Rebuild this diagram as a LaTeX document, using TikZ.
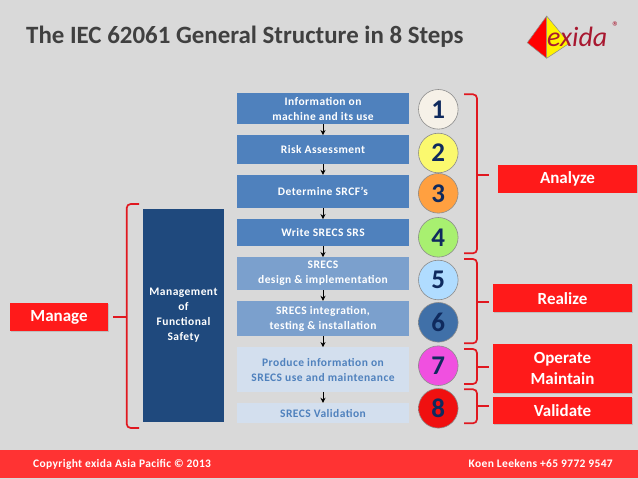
\documentclass[tikz,border=0pt]{standalone}
\usepackage{fontspec}
\setmainfont{Carlito}
\usetikzlibrary{arrows.meta,shadows}
\definecolor{slide}{HTML}{D9D9D9}
\definecolor{stepa}{HTML}{4F81BD}
\definecolor{stepb}{HTML}{7BA0CD}
\definecolor{stepc}{HTML}{D3DFEE}
\definecolor{mfsblue}{HTML}{1F497D}
\definecolor{labelred}{HTML}{FF1A1A}
\definecolor{bracered}{HTML}{E01820}
\definecolor{footred}{HTML}{FF3333}
\definecolor{digitblue}{HTML}{0F2A5E}
\definecolor{logored}{HTML}{A81830}
\colorlet{ballin}{white}
\colorlet{ballout}{black}
\pgfdeclareradialshading[ballin,ballout]{ballshade}{\pgfpoint{0bp}{0bp}}{color(0bp)=(ballin); color(33bp)=(ballin); color(44bp)=(ballin!60!ballout); color(50bp)=(ballout)}
\tikzset{
    stepbox/.style={minimum width=171.4pt,inner sep=0pt,font=\bfseries\fontsize{11.5}{15}\selectfont\addfontfeature{LetterSpace=4},align=center},
    ballnode/.style={circle,minimum size=39.6pt,inner sep=0pt,shading=ballshade,draw=black!45,line width=0.6pt,text=digitblue,font=\bfseries\fontsize{27}{27}\selectfont},
    labelbox/.style={fill=labelred,text=white,minimum width=138.4pt,inner sep=0pt,align=center,font=\bfseries\fontsize{17}{21}\selectfont,drop shadow={shadow xshift=0.8pt,shadow yshift=-0.8pt,opacity=0.3}},
    bracket/.style={draw=bracered,line width=1.7pt,rounded corners=4pt},
    footnote/.style={text=white,inner sep=0pt,font=\bfseries\fontsize{11.5}{12}\selectfont\addfontfeature{LetterSpace=3}}
}
\begin{document}
\begin{tikzpicture}[x=1pt,y=-1pt]
    \useasboundingbox (0,0) rectangle (638,479);
    \fill[slide] (0,0) rectangle (638,479);
    \fill[footred] (0,450) rectangle (638,478);
    \node[inner sep=0pt,anchor=west,text=black!75,font=\bfseries\fontsize{24.9}{28}\selectfont] (title) at (26,36.5) {The IEC 62061 General Structure in 8 Steps};
    \fill[red] (546.7,16) -- (527.3,42.7) -- (546.7,58.3) -- cycle;
    \fill[yellow] (546.7,16) -- (569.3,43.3) -- (546.7,58.3) -- cycle;
    \draw[black!45,line width=0.5pt] (546.7,16) -- (569.3,43.3) -- (546.7,58.3) -- (527.3,42.7) -- cycle (546.7,16) -- (546.7,58.3);
    \node[inner sep=0pt,anchor=west,text=logored,font=\itshape\fontsize{28}{28}\selectfont] (logo) at (547,37) {exida};
    \node[inner sep=0pt,text=logored,font=\fontsize{14}{14}\selectfont] (reg) at (616,27) {®};
    \foreach \i/\y/\h/\col/\txt/\tcol in {
        1/108.6/31.3/stepa/{Information on\\machine and its use}/white,
        2/149.6/28.7/stepa/{Risk Assessment}/white,
        3/191.5/33/stepa/{Determine SRCF’s}/white,
        4/232.6/26.7/stepa/{Write SRECS SRS}/white,
        5/273.6/32.7/stepb/{SRECS\\design \& implementation}/white,
        6/318.5/35/stepb/{SRECS integration,\\testing \& installation}/white,
        7/369.5/44.4/stepc/{Produce information on\\SRECS use and maintenance}/stepa,
        8/413/20/stepc/{SRECS Validation}/stepa}
    {
        \node[stepbox,fill=\col,text=\tcol,minimum height=\h pt] (s\i) at (323,\y) {\txt};
    }
    \foreach \i/\j in {1/2,2/3,3/4,4/5,5/6,6/7,7/8}
    {
        \draw[-{Stealth[length=5pt,width=5pt]},line width=0.7pt] (s\i) -- (s\j);
    }
    \foreach \i/\y/\inner/\outer in {
        1/109.3/F6F1E8/A09890,
        2/153/FBF96E/989230,
        3/193.3/FFA040/A05C18,
        4/237.3/A8F070/549034,
        5/280/B0DCFF/446C8C,
        6/322.3/4070A8/203E60,
        7/365.7/F050E0/942890,
        8/408.3/F01010/800606}
    {
        \definecolor{ballin}{HTML}{\inner}
        \definecolor{ballout}{HTML}{\outer}
        \node[ballnode] (n\i) at (438.3,\y) {\i};
    }
    \node[labelbox,minimum height=27.7pt] (analyze) at (567.5,178.8) {Analyze};
    \node[labelbox,minimum height=28pt] (realize) at (562.5,298.3) {Realize};
    \node[labelbox,minimum height=49pt] (operate) at (562.5,368.2) {Operate\\Maintain};
    \node[labelbox,minimum height=27.6pt] (validate) at (562.5,410.5) {Validate};
    \node[labelbox,minimum width=98pt,minimum height=27.7pt] (manage) at (59,317.2) {Manage};
    \node[fill=mfsblue,text=white,minimum width=81.6pt,minimum height=212.4pt,inner sep=0pt,align=center,font=\bfseries\fontsize{11.5}{15}\selectfont\addfontfeature{LetterSpace=4}] (mfs) at (183.5,315.5) {Management\\of\\Functional\\Safety};
    \foreach \nm/\ya/\yb/\ym in {ana/94.3/253.3/175,rea/259/343.3/301.7,ope/349/384/366.7,val/389.3/423.3/406}
    {
        \coordinate (\nm a) at (464,\ya);
        \coordinate (\nm b) at (464,\yb);
        \coordinate (\nm m) at (477,\ym);
        \coordinate (\nm t) at (489,\ym);
        \draw[bracket] (\nm a) -| (\nm m) |- (\nm b);
        \draw[bracket] (\nm m) -- (\nm t);
    }
    \coordinate (mana) at (139,204);
    \coordinate (manb) at (139,428);
    \coordinate (manm) at (126.7,317.3);
    \coordinate (mant) at (113,317.3);
    \draw[bracket] (mana) -| (manm) |- (manb);
    \draw[bracket] (manm) -- (mant);
    \node[footnote,anchor=west] (copy) at (33,464) {Copyright exida Asia Pacific © 2013};
    \node[footnote,anchor=east] (koen) at (613,464) {Koen Leekens +65 9772 9547};
\end{tikzpicture}
\end{document}
